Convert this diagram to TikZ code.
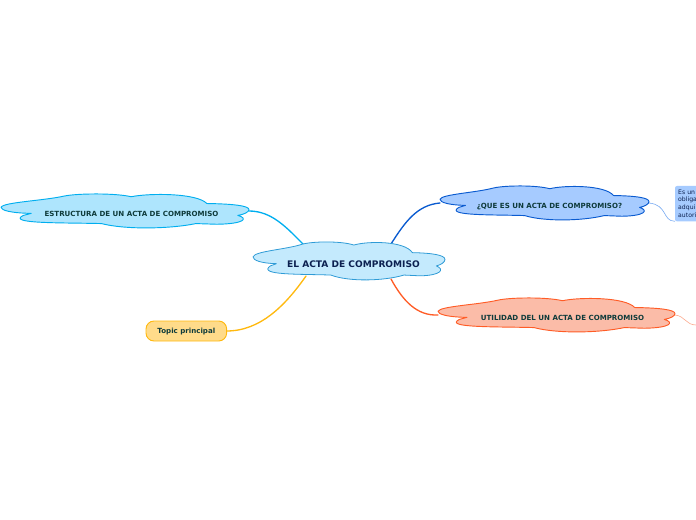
\documentclass[tikz,border=0pt]{standalone}
\usepackage{fontspec}
\setmainfont{DejaVu Sans}
\pgfdeclarelayer{edges}
\pgfdeclarelayer{clouds}
\pgfsetlayers{edges,clouds,main}
\definecolor{inkA}{HTML}{0B2050}
\definecolor{inkB}{HTML}{0F3B3B}
\definecolor{cenF}{HTML}{C4EAFD}\definecolor{cenD}{HTML}{2E9BD6}
\definecolor{bluF}{HTML}{A6CBFF}\definecolor{bluD}{HTML}{0A5BD0}
\definecolor{oraF}{HTML}{FBBCA8}\definecolor{oraD}{HTML}{FF5C26}
\definecolor{skyF}{HTML}{AEE5FD}\definecolor{skyD}{HTML}{00AEEF}
\definecolor{yelF}{HTML}{FFDB8A}\definecolor{yelD}{HTML}{FFB90F}
\newcommand{\shifted}[3]{\hspace*{#1}\smash{\raisebox{-#2}{#3}}}
\tikzset{
  x=0.75pt,y=-0.75pt,
  box/.style={inner sep=0pt,outer sep=0pt,font=\bfseries\fontsize{5.3pt}{7pt}\selectfont,text=inkB},
  link/.style={line width=1pt,line cap=round},
  thin link/.style={line width=0.45pt}
}
% #1 node name, #2 fill, #3 draw, #4 line width
\newcommand{\cloudshape}[4]{%
  \begin{pgfonlayer}{clouds}
  \begin{scope}[shift={(#1.north west)},x=\cloudw pt,y=-\cloudh pt]
  \path[fill=#2,draw=#3,line width=#4,line join=round]
    (0,.39) .. controls (.01,.24) and (.17,.2) .. (.255,.06)
    .. controls (.31,-.02) and (.46,-.03) .. (.525,.08)
    .. controls (.6,-.03) and (.79,-.03) .. (.83,.28)
    .. controls (.93,.29) and (1,.34) .. (1,.46)
    .. controls (1,.53) and (.98,.6) .. (.955,.63)
    .. controls (1,.72) and (.98,.88) .. (.87,.89)
    -- (.786,.87)
    .. controls (.68,1.03) and (.5,1.05) .. (.405,.87)
    .. controls (.25,.84) and (.02,.88) .. (.09,.63)
    -- (.122,.57)
    .. controls (.04,.56) and (0,.48) .. (0,.39) -- cycle;
  \end{scope}
  \end{pgfonlayer}}
\begin{document}
\begin{tikzpicture}
\useasboundingbox (0,0) rectangle (696,520);

\node[box,minimum width=144pt,minimum height=28.5pt,anchor=north west,font=\bfseries\fontsize{6.8pt}{8pt}\selectfont,text=inkA] (cen) at (253,242) {\shifted{6.75pt}{5.2pt}{EL ACTA DE COMPROMISO}};
\node[box,minimum width=156.75pt,minimum height=25.5pt,anchor=north west] (que) at (440,186) {\shifted{7.5pt}{3.9pt}{¿QUE ES UN ACTA DE COMPROMISO?}};
\node[box,minimum width=177.75pt,minimum height=25.5pt,anchor=north west] (uti) at (438,298) {\shifted{9pt}{3.9pt}{UTILIDAD DEL UN ACTA DE COMPROMISO}};
\node[box,minimum width=186pt,minimum height=25.5pt,anchor=north west] (est) at (1,194) {\shifted{9.75pt}{3.9pt}{ESTRUCTURA DE UN ACTA DE COMPROMISO}};
\node[box,draw=yelD,fill=yelF,line width=0.7pt,rounded corners=6pt,minimum width=60.5pt,minimum height=15pt,anchor=north west] (top) at (146,321) {\shifted{0pt}{2.1pt}{Topic principal}};
\node[box,fill=bluF,rounded corners=1.5pt,minimum width=18pt,minimum height=26.5pt,anchor=north west,text=inkA,font=\fontsize{4.6pt}{5.9pt}\selectfont,align=left,inner sep=0pt,text width=18pt] (note) at (675,186) {\hspace*{2.4pt}Es un\\\hspace*{2.4pt}obliga\\\hspace*{2.4pt}adqui\\\hspace*{2.4pt}autori};
\coordinate (free) at (696,325);
\coordinate (cenUR) at (391,244);
\coordinate (cenLR) at (391,279);
\coordinate (cenUL) at (304,245);
\coordinate (cenLL) at (306,276);

\begin{pgfonlayer}{edges}
\draw[link,bluD] (cenUR) .. controls (405,222) and (417,205) .. (que.west);
\draw[link,oraD] (cenLR) .. controls (403,301) and (417,316) .. (uti.west);
\draw[link,skyD] (est.east) .. controls (272,211) and (287,228) .. (cenUL);
\draw[link,yelD] (top.east) .. controls (260,331) and (285,306) .. (cenLL);
\draw[thin link,bluF!70!bluD] (que.east) .. controls (668,205) and (662,221) .. (note.south west);
\draw[thin link,oraF!80!oraD] (uti.east) .. controls (685,316) and (686,325) .. (free);
\end{pgfonlayer}

\def\cloudw{144}\def\cloudh{28.5}\cloudshape{cen}{cenF}{cenD}{0.6pt}
\def\cloudw{156.75}\def\cloudh{25.5}\cloudshape{que}{bluF}{bluD}{0.7pt}
\def\cloudw{177.75}\def\cloudh{25.5}\cloudshape{uti}{oraF}{oraD}{0.7pt}
\def\cloudw{186}\def\cloudh{25.5}\cloudshape{est}{skyF}{skyD}{0.7pt}
\end{tikzpicture}
\end{document}
